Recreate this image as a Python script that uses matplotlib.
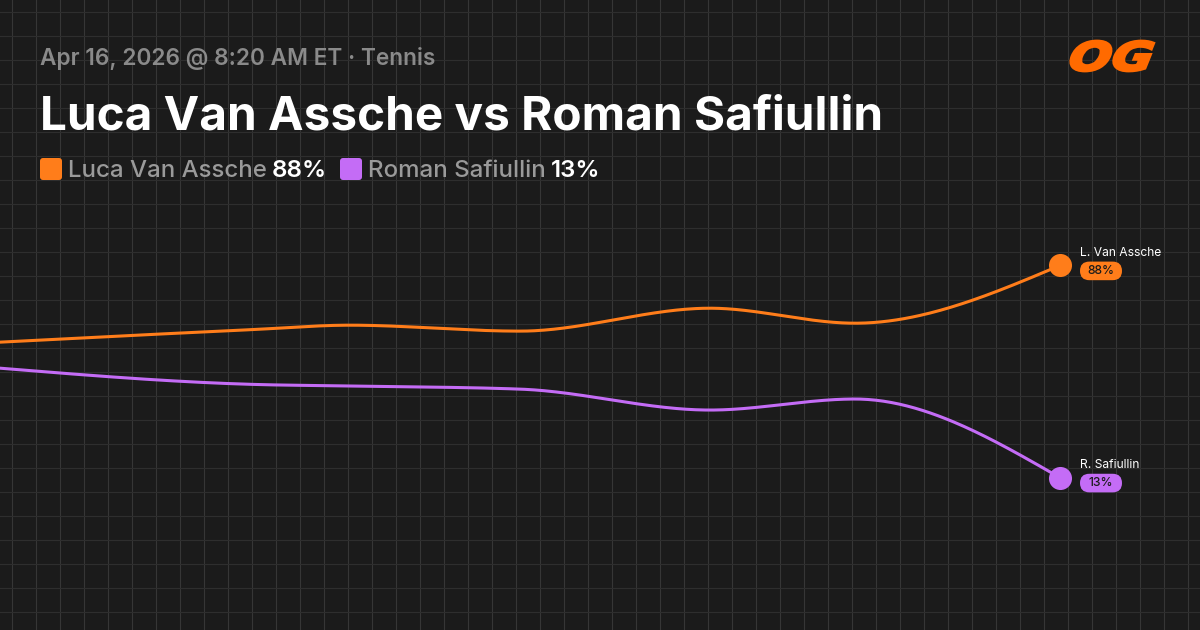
import numpy as np
import matplotlib
matplotlib.use("Agg")
import matplotlib.pyplot as plt
from matplotlib.patches import FancyBboxPatch, PathPatch
from matplotlib.textpath import TextPath
from matplotlib.font_manager import FontProperties
from matplotlib.transforms import Affine2D, IdentityTransform

# match data
header = "Apr 16, 2026 @ 8:20 AM ET \u00b7 Tennis"
title = "Luca Van Assche vs Roman Safiullin"
players = ["Luca Van Assche", "Roman Safiullin"]
short_names = ["L. Van Assche", "R. Safiullin"]
final_pct = ["88%", "13%"]
colors = ["#ff7d1a", "#c46cf6"]

# hours since tracking started, win probability (%)
hours = [0, 5, 7, 10.4, 14.2, 17.1, 21.2]
van_assche = [60.9, 65.3, 66.9, 64.8, 72.9, 67.6, 88]
safiullin = [51.7, 46.0, 45.4, 44.3, 36.9, 40.8, 13]

BG = "#1b1b1b"
W, H = 1200, 630
plt.rcParams['font.family'] = ['Inter', 'DejaVu Sans']


def monotone(x, y, n=80):
    # monotone cubic (Steffen) like d3.curveMonotoneX
    x = np.asarray(x, float)
    y = np.asarray(y, float)
    h = np.diff(x)
    s = np.diff(y) / h
    t = np.zeros_like(y)
    for i in range(1, len(x) - 1):
        p = (s[i - 1] * h[i] + s[i] * h[i - 1]) / (h[i - 1] + h[i])
        t[i] = (np.sign(s[i - 1]) + np.sign(s[i])) * min(abs(s[i - 1]), abs(s[i]), 0.5 * abs(p))
    t[0] = (3 * s[0] - t[1]) / 2
    t[-1] = (3 * s[-1] - t[-2]) / 2
    xs, ys = [], []
    for i in range(len(h)):
        u = np.linspace(0, 1, n)
        h00 = 2 * u**3 - 3 * u**2 + 1
        h10 = u**3 - 2 * u**2 + u
        h01 = -2 * u**3 + 3 * u**2
        h11 = u**3 - u**2
        xs.append(x[i] + u * h[i])
        ys.append(h00 * y[i] + h10 * h[i] * t[i] + h01 * y[i + 1] + h11 * h[i] * t[i + 1])
    return np.concatenate(xs), np.concatenate(ys)


fig = plt.figure(figsize=(12, 6.3), dpi=100, facecolor=BG)

# background grid (pixel space)
gax = fig.add_axes([0, 0, 1, 1])
gax.set_xlim(0, W)
gax.set_ylim(H, 0)
gax.set_facecolor(BG)
gax.axis("off")
for gx in range(12, W, 24):
    gax.axvline(gx, color="#363636", lw=0.8, zorder=0)
for gy in range(12, H, 24):
    gax.axhline(gy, color="#2e2e2e", lw=0.8, zorder=0)

# chart
ax = fig.add_axes([0, 0, 1, 1])
ax.patch.set_alpha(0)
ax.axis("off")
ax.set_xlim(0, 24)
ax.set_ylim(-40.85, 181.85)

for vals, c in zip([van_assche, safiullin], colors):
    sx, sy = monotone(hours, vals)
    ax.plot(sx, sy, color=c, lw=2.2, solid_capstyle="round", zorder=3)
    ax.plot(hours[-1], vals[-1], "o", color=c, ms=16.6, mew=0, zorder=4)

# end labels
for vals, c, name, pct in zip([van_assche, safiullin], colors, short_names, final_pct):
    px, py = ax.transData.transform((hours[-1], vals[-1]))
    fig.text(px + 20, py + 9.8, name, transform=IdentityTransform(), color="white",
             fontsize=8.7, ha="left", va="baseline")
    pill = FancyBboxPatch((px + 20, py - 5.4 - 9.3), 42, 18.6,
                          boxstyle="round,pad=0,rounding_size=9.3",
                          transform=IdentityTransform(), fc=c, ec="none", zorder=5)
    fig.add_artist(pill)
    fig.text(px + 41, py - 5.4, pct, transform=IdentityTransform(), color="#1b1b1b",
             fontsize=8.7, fontweight="medium", ha="center", va="center", zorder=6)

# header texts
fig.text(40, H - 64.5, header, transform=IdentityTransform(), color="#8a8a8a",
         fontsize=16.3, fontweight="semibold", ha="left", va="baseline")
fig.text(40, H - 130, title, transform=IdentityTransform(), color="white",
         fontsize=34.3, fontweight="bold", ha="left", va="baseline")

# legend
fig.canvas.draw()
r = fig.canvas.get_renderer()
x = 40
base = H - 177
for name, pct, c in zip(players, final_pct, colors):
    sq = FancyBboxPatch((x, H - 180), 22, 22, boxstyle="round,pad=0,rounding_size=3",
                        transform=IdentityTransform(), fc=c, ec="none")
    fig.add_artist(sq)
    x += 28
    t1 = fig.text(x, base, name, transform=IdentityTransform(), color="#9a9a9a",
                  fontsize=17.3, fontweight="medium", ha="left", va="baseline")
    x += t1.get_window_extent(r).width + 5
    t2 = fig.text(x, base, pct, transform=IdentityTransform(), color="white",
                  fontsize=17.3, fontweight="semibold", ha="left", va="baseline")
    x += t2.get_window_extent(r).width + 13

# OG logo
tp = TextPath((0, 0), "OG", size=100,
              prop=FontProperties(family=["DejaVu Sans"], weight="bold"))
bb = tp.get_extents()
lh, lw, skew = 30, 90, 22
sy_ = lh / bb.height
sx_ = (lw - lh * np.tan(np.radians(skew))) / bb.width
tr = (Affine2D().translate(-bb.x0, -bb.y0).scale(sx_, sy_).skew_deg(skew, 0)
      .translate(1066, H - 71))
logo = PathPatch(tr.transform_path(tp), transform=IdentityTransform(), fc="#ff6a00",
                 ec="#ff6a00", lw=2.0, joinstyle="miter")
fig.add_artist(logo)

fig.savefig("out.png", dpi=100, facecolor=BG)
